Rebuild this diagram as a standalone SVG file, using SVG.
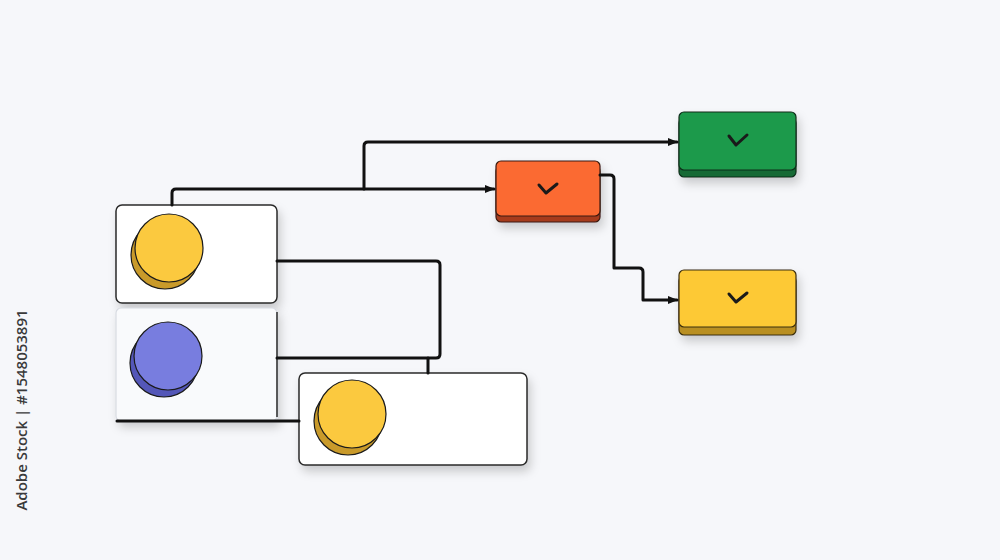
<svg xmlns="http://www.w3.org/2000/svg" width="1000" height="560" viewBox="0 0 1000 560">
<style>
.card{fill:#ffffff;stroke:#2a2a2a;stroke-width:1.5}
.wire{fill:none;stroke:#111;stroke-width:3;stroke-linejoin:round;stroke-linecap:round}
.chk{fill:none;stroke:#1a1a1a;stroke-width:3;stroke-linecap:round;stroke-linejoin:round}
.edge{stroke:#1a1a1a;stroke-width:1.2}
.id{font-family:"Open Sans","Liberation Sans",sans-serif;font-size:15px;font-weight:600;fill:#3a3a3a}
</style>
<defs>
<filter id="sh" x="-20%" y="-20%" width="150%" height="160%">
<feDropShadow dx="3" dy="6" stdDeviation="5" flood-color="#000" flood-opacity="0.18"/>
</filter>
<marker id="ar" markerWidth="10" markerHeight="8" refX="9" refY="4" orient="auto" markerUnits="userSpaceOnUse">
<path d="M0,0 L10,4 L0,8 Z" fill="#111"/>
</marker>
</defs>
<rect width="1000" height="560" fill="#f6f7fa"/>
<text class="id" transform="translate(27,410) rotate(-90)" text-anchor="middle">Adobe Stock | #1548053891</text>

<g id="nodeA">
<rect class="card" x="116" y="205" width="161" height="98" rx="6" filter="url(#sh)"/>
<circle cx="165" cy="255" r="34" fill="#c99a2a" class="edge"/>
<circle cx="169" cy="248" r="34" fill="#fbc93f" class="edge"/>
</g>

<g id="nodeB">
<rect x="116" y="308" width="161" height="113" rx="5" fill="#f9fafc" stroke="#d8dbe2" stroke-width="1.2" filter="url(#sh)"/>
<path d="M277,312 V417" stroke="#2a2a2a" stroke-width="1.5"/>
<circle cx="164" cy="363" r="34" fill="#5457b8" class="edge"/>
<circle cx="168" cy="356" r="34" fill="#787ddf" class="edge"/>
</g>

<g id="nodeC">
<rect class="card" x="299" y="373" width="228" height="92" rx="6" filter="url(#sh)"/>
<circle cx="348" cy="421" r="34" fill="#c99a2a" class="edge"/>
<circle cx="352" cy="414" r="34" fill="#fbc93f" class="edge"/>
</g>

<g id="orange">
<g filter="url(#sh)">
<rect x="496" y="166" width="104" height="56" rx="5" fill="#a53b1f" stroke="#3a1a10" stroke-width="1.2"/>
<rect x="496" y="161" width="104" height="55" rx="5" fill="#fb6a32" stroke="#3a1a10" stroke-width="1.2"/>
</g>
<path class="chk" d="M539,185 L546,193 L557,184"/>
</g>

<g id="green">
<g filter="url(#sh)">
<rect x="679" y="118" width="117" height="59" rx="5" fill="#146a35" stroke="#0f2e1a" stroke-width="1.2"/>
<rect x="679" y="112" width="117" height="58" rx="5" fill="#1f9a4c" stroke="#0f2e1a" stroke-width="1.2"/>
</g>
<path class="chk" d="M729,136 L736,145 L747,135"/>
</g>

<g id="yellow">
<g filter="url(#sh)">
<rect x="679" y="276" width="117" height="59" rx="5" fill="#b98f20" stroke="#3a2e10" stroke-width="1.2"/>
<rect x="679" y="270" width="117" height="57" rx="5" fill="#fdc935" stroke="#3a2e10" stroke-width="1.2"/>
</g>
<path class="chk" d="M729,294 L736,302 L747,293"/>
</g>

<g id="connectors">
<path class="wire" d="M172,205 V193 Q172,189 176,189 H494" marker-end="url(#ar)"/>
<path class="wire" d="M364,189 V146 Q364,142 368,142 H677" marker-end="url(#ar)"/>
<path class="wire" d="M600,175 H610 Q614,175 614,179 V268 H639 Q643,268 643,272 V300 H677" marker-end="url(#ar)"/>
<path class="wire" d="M277,261 H436 Q440,261 440,265 V354 Q440,358 436,358 H277"/>
<path class="wire" d="M428,358 V373"/>
<path class="wire" d="M117,421 H299"/>
</g>
</svg>
